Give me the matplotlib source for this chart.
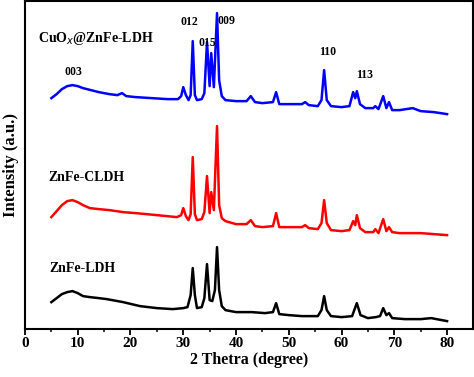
import matplotlib
matplotlib.use("Agg")
import matplotlib.pyplot as plt
from matplotlib.ticker import MultipleLocator

plt.rcParams['font.family'] = ['Liberation Serif', 'DejaVu Serif']

# ---- data (2theta in degrees, intensity in arbitrary units, stacked) ----
cuo_theta = [5, 6, 7, 8, 9, 10, 11, 12.5, 14, 16, 17.5, 18.4, 19.2, 21, 24, 27, 29, 29.6, 30.0, 30.5,
             31.0, 31.4, 31.8, 32.2, 32.6, 33.5, 34.0, 34.5, 35.0, 35.3, 35.8, 36.4, 36.8, 37.3, 38, 40,
             42.0, 42.8, 43.6, 45, 47.0, 47.6, 48.2, 50, 52.5, 53.1, 53.8, 55.5, 56.2, 56.7, 57.2, 58, 60,
             61.5, 62.2, 62.6, 62.9, 63.5, 64.5, 66.0, 66.4, 67.0, 67.9, 68.5, 69.0, 69.6, 71, 73.5, 75,
             77.5, 80]
cuo_int = [231, 235, 240, 243, 244, 243, 241, 239, 237, 235, 234, 236, 233, 232, 231, 230, 230, 233, 242, 234,
           229, 234, 288, 234, 229, 230, 236, 287, 243, 276, 242, 316, 249, 233, 229, 228,
           228, 233, 227, 226, 227, 237, 225, 225, 225, 227, 224, 223, 229, 259, 229, 223, 222,
           223, 237, 231, 238, 225, 221, 221, 223, 220, 233, 221, 227, 219, 219, 221, 218,
           217, 215]

cldh_theta = [5, 6, 7, 8, 9, 10, 11, 12.3, 14, 16, 18.6, 21, 25, 28.8, 29.6, 30.0, 30.5, 31.0, 31.4, 31.8,
              32.2, 32.6, 33.5, 34.0, 34.5, 35.0, 35.3, 35.8, 36.4, 36.8, 37.3, 38, 40, 42.0, 42.8, 43.6,
              45, 47.0, 47.6, 48.2, 50, 52.5, 53.1, 53.8, 55.5, 56.2, 56.7, 57.2, 58, 60, 61.5, 62.2, 62.6,
              62.9, 63.5, 64.5, 66.0, 66.4, 67.0, 67.9, 68.5, 69.0, 69.6, 71, 75, 77.5, 80]
cldh_int = [112, 118, 124, 128, 129, 127, 124, 121, 120, 119, 117, 116, 114, 112, 114, 121, 113, 109, 115, 172,
            115, 109, 110, 117, 153, 116, 137, 119, 203, 124, 111, 108, 105, 105, 109, 103,
            102, 103, 116, 102, 102, 102, 104, 101, 100, 106, 129, 106, 99, 98, 99, 108, 104,
            114, 101, 97, 97, 100, 96, 110, 98, 102, 97, 96, 96, 95, 94]

ldh_theta = [5, 6, 7, 8, 9, 10, 11, 12.3, 14, 15.5, 18.6, 21.8, 25, 28, 30, 30.8, 31.4, 31.8, 32.2, 32.6,
             33.5, 34.0, 34.5, 35.0, 35.5, 36.0, 36.4, 36.8, 37.3, 38, 40, 43, 45.5, 47.0, 47.6, 48.2, 50,
             52.5, 55.5, 56.2, 56.7, 57.2, 58, 60, 62.0, 62.9, 63.6, 65, 66.5, 67.3, 67.9, 68.5, 69.0,
             69.6, 72, 75, 77, 80]
ldh_int = [27, 31, 35, 37, 38, 36, 33, 32, 31, 30, 27, 23, 21, 20, 21, 22, 34, 61, 34, 21,
           22, 31, 65, 29, 28, 39, 82, 39, 23, 19, 17, 17, 16, 17, 26, 15, 14,
           13, 13, 19, 33, 19, 13, 12, 13, 26, 14, 11, 12, 13, 21, 14, 16,
           11, 10, 10, 11, 8]

series_labels = ["CuO$_x$@ZnFe-LDH", "ZnFe-CLDH", "ZnFe-LDH"]
peak_labels = ["003", "012", "015", "009", "110", "113"]
x_ticks = [0, 10, 20, 30, 40, 50, 60, 70, 80]

# ---- figure ----
fig = plt.figure(figsize=(4.74, 3.77), dpi=100)
ax = fig.add_axes([0.0527, 0.127, 0.945, 0.870])

ax.plot(ldh_theta, ldh_int, color='black', lw=1.8)
ax.plot(cldh_theta, cldh_int, color='#ff0000', lw=1.8)
ax.plot(cuo_theta, cuo_int, color='#0000ff', lw=1.8)

ax.set_xlim(0, 84.9)
ax.set_ylim(0, 328)
ax.set_yticks([])
ax.xaxis.set_minor_locator(MultipleLocator(5))
ax.set_xticks(x_ticks)
ax.tick_params(axis='x', which='major', direction='out', length=4, width=1.3, labelsize=11, pad=2)
ax.tick_params(axis='x', which='minor', direction='out', length=2.5, width=1.1)
for lab in ax.get_xticklabels():
    lab.set_fontweight('bold')
for sp in ax.spines.values():
    sp.set_linewidth(1.5)

ax.set_xlabel("2 Thetra (degree)", fontsize=11.5, fontweight='bold', labelpad=1)
ax.set_ylabel("Intensity (a.u.)", fontsize=12, fontweight='bold', labelpad=4)

tk = dict(fontsize=10, fontweight='bold', ha='left', va='center')
ax.text(2.5, 291, series_labels[0], **tk)
ax.text(4.5, 152, series_labels[1], **tk)
ax.text(4.7, 61, series_labels[2], **tk)

pk = dict(fontsize=8.5, fontweight='bold', ha='center', va='center')
ax.text(9.1, 257, peak_labels[0], **pk)
ax.text(31.2, 307, peak_labels[1], **pk)
ax.text(34.6, 286, peak_labels[2], **pk)
ax.text(38.2, 308, peak_labels[3], **pk)
ax.text(57.3, 277, peak_labels[4], **pk)
ax.text(64.4, 254, peak_labels[5], **pk)

fig.savefig("out.png", dpi=100)
